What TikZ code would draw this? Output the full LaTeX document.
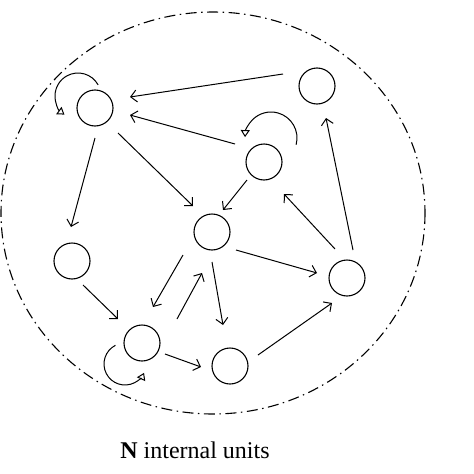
\documentclass[tikz,border=0pt]{standalone}
\usepackage{fontspec}
\setmainfont{Liberation Serif}
\usetikzlibrary{arrows.meta}
\begin{document}
\begin{tikzpicture}[x=1pt,y=-1pt,
  unit/.style={circle,draw,line width=1.1pt,minimum size=36pt,inner sep=0pt},
  arr/.style={line width=1pt,-{Straight Barb[length=6pt,width=12pt,line width=1pt]}},
  selfloop/.style={line width=1pt,-{Triangle[open,length=7pt,width=9pt,line width=1pt]}},
  border/.style={line width=1.1pt,dash pattern=on 11pt off 4.5pt on 1.5pt off 4.5pt}]
\useasboundingbox (0,0) rectangle (474,474);
\draw[border] (213,213) ellipse [x radius=212, y radius=201];
\node[unit] (A) at (95,108) {};
\node[unit] (B) at (317,86) {};
\node[unit] (C) at (264,162) {};
\node[unit] (D) at (212,232) {};
\node[unit] (E) at (72,261) {};
\node[unit] (F) at (142,343) {};
\node[unit] (G) at (230,366) {};
\node[unit] (H) at (347,278) {};
% connectors
\draw[arr] ([shift={(-34,-12)}]B.center) -- ([shift={(35,-11)}]A.center);
\draw[arr] ([shift={(-29,-18)}]C.center) -- ([shift={(35,7)}]A.center);
\draw[arr] ([shift={(23,25)}]A.center) -- ([shift={(-19,-26)}]D.center);
\draw[arr] ([shift={(0,30)}]A.center) -- ([shift={(-1,-34)}]E.center);
\draw[arr] ([shift={(-17,18)}]C.center) -- ([shift={(11,-22)}]D.center);
\draw[arr] ([shift={(-12,-29)}]H.center) -- ([shift={(20,32)}]C.center);
\draw[arr] ([shift={(6,-28)}]H.center) -- ([shift={(9,32)}]B.center);
\draw[arr] ([shift={(24,18)}]D.center) -- ([shift={(-30,-5)}]H.center);
\draw[arr] ([shift={(28,-11)}]G.center) -- ([shift={(-15,25)}]H.center);
\draw[arr] ([shift={(11,24)}]E.center) -- ([shift={(-24,-24)}]F.center);
\draw[arr] ([shift={(23,11)}]F.center) -- ([shift={(-29,1)}]G.center);
\draw[arr] ([shift={(-29,23)}]D.center) -- ([shift={(11,-36)}]F.center);
\draw[arr] ([shift={(35,-24)}]F.center) -- ([shift={(-10,41)}]D.center);
\draw[arr] ([shift={(0,30)}]D.center) -- ([shift={(-7,-41)}]G.center);
% self loops
\draw[selfloop] ([shift={(-17,-12)}]A.center) ++(-29:23) arc[start angle=-29,end angle=-234,radius=23];
\draw[selfloop] ([shift={(7,-24)}]C.center) ++(15:26) arc[start angle=15,end angle=-178,radius=26];
\draw[selfloop] ([shift={(-17,21)}]F.center) ++(-117:21) arc[start angle=-117,end angle=-335,radius=21];
% label
\node[anchor=base,inner sep=0pt,font=\fontsize{24}{28}\selectfont] (lbl) at (195,458) {\textbf{N} internal units};
\end{tikzpicture}
\end{document}
